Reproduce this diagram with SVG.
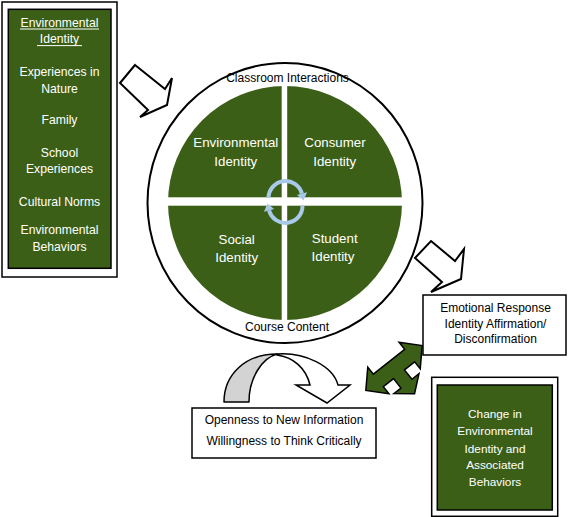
<svg xmlns="http://www.w3.org/2000/svg" width="568" height="517" viewBox="0 0 568 517">
<style>
.t{font-family:"Liberation Sans",Arial,sans-serif;font-size:12px;fill:#000;text-anchor:middle}
.w{font-family:"Liberation Sans",Arial,sans-serif;font-size:12.2px;fill:#fff;text-anchor:middle}
.q{font-family:"Liberation Sans",Arial,sans-serif;font-size:13.3px;fill:#fff;text-anchor:middle}
.frame{fill:#fff;stroke:#000;stroke-width:1.5}
.green{fill:#3c5f17;stroke:#000;stroke-width:1.5}
.hollow{fill:#fff;stroke:#000;stroke-width:2;stroke-linejoin:miter}
.rot{fill:none;stroke:#a9c9e8;stroke-width:4}
.rothead{fill:#a9c9e8}
</style>
<rect width="568" height="517" fill="#fff"/>

<g id="influences">
<rect class="frame" x="2" y="2" width="115" height="275"/>
<rect class="green" x="8.3" y="9.3" width="102.7" height="259"/>
<text class="w" x="59.5" y="26.7">Environmental</text>
<text class="w" x="59.5" y="43.3">Identity</text>
<line x1="20" y1="29" x2="99" y2="29" stroke="#fff" stroke-width="1"/>
<line x1="37" y1="45.6" x2="82" y2="45.6" stroke="#fff" stroke-width="1"/>
<text class="w" x="59.5" y="76">Experiences in</text>
<text class="w" x="59.5" y="92.7">Nature</text>
<text class="w" x="59.5" y="124.3">Family</text>
<text class="w" x="59.5" y="156.7">School</text>
<text class="w" x="59.5" y="173.3">Experiences</text>
<text class="w" x="59.5" y="206">Cultural Norms</text>
<text class="w" x="59.5" y="234">Environmental</text>
<text class="w" x="59.5" y="250.7">Behaviors</text>
</g>

<g id="identities">
<ellipse cx="285" cy="203" rx="137.5" ry="140" fill="#fff" stroke="#000" stroke-width="2"/>
<circle cx="285" cy="203" r="117" fill="#3c5f17"/>
<rect x="281.7" y="80" width="5.5" height="250" fill="#fff"/>
<rect x="160" y="197.3" width="250" height="8.4" fill="#fff"/>
<text class="t" x="287.5" y="81.7">Classroom Interactions</text>
<text class="t" x="287" y="330.7">Course Content</text>
<text class="q" x="235.8" y="147.3">Environmental</text>
<text class="q" x="235.8" y="166">Identity</text>
<text class="q" x="335" y="147.3">Consumer</text>
<text class="q" x="334.7" y="166">Identity</text>
<text class="q" x="236.7" y="244">Social</text>
<text class="q" x="236.7" y="262">Identity</text>
<text class="q" x="334.7" y="242.7">Student</text>
<text class="q" x="333" y="261.3">Identity</text>
<path class="rot" d="M268.5,198 A17,17 0 0 1 301.9,193.6"/>
<polygon class="rothead" points="307,192.2 296.9,195 303.6,200.4"/>
<path class="rot" d="M302.5,206 A17,17 0 0 1 269.1,210.4"/>
<polygon class="rothead" points="264,211.8 274.2,209 267.4,203.6"/>
</g>

<g id="emotional">
<rect class="frame" x="423" y="295" width="143" height="60"/>
<text class="t" x="495.5" y="311.7">Emotional Response</text>
<text class="t" x="495.5" y="328.3">Identity Affirmation/</text>
<text class="t" x="495.5" y="343.3">Disconfirmation</text>
</g>

<g id="openness">
<rect class="frame" x="192" y="408" width="184" height="50"/>
<text class="t" x="284" y="424">Openness to New Information</text>
<text class="t" x="284" y="445.3">Willingness to Think Critically</text>
</g>

<g id="change">
<rect class="frame" x="431.7" y="377.3" width="126" height="139"/>
<rect class="green" x="437.3" y="385" width="115" height="125"/>
<text class="w" x="495" y="417.7" style="font-size:11.8px">Change in</text>
<text class="w" x="495" y="435" style="font-size:11.8px">Environmental</text>
<text class="w" x="495" y="452.7" style="font-size:11.8px">Identity and</text>
<text class="w" x="495" y="469.3" style="font-size:11.8px">Associated</text>
<text class="w" x="495" y="486" style="font-size:11.8px">Behaviors</text>
</g>

<g id="connectors">
<polygon class="hollow" points="135,65 165,89 172,78 167,105 140,117 148,110 120,83"/>
<polygon class="hollow" points="431,241 455,261 464,249 461,279 431,292 442,282 415,258"/>
<path d="M224,402 C224,374 246,354 277,354 C262,358 249,378 249,402 Z" fill="#d3d3d3" stroke="#000" stroke-width="1.5" stroke-linejoin="round"/>
<path d="M277,354 C305,352 333,366 338,385 L350,385 L327,403 L296,385 L310,385 C306,368 293,357 277,355 Z" fill="#fff" stroke="#000" stroke-width="1.5"/>
<path transform="translate(394,368) rotate(-38.5)" d="M-36,0 L-20,-17 L-20,-8 L20,-8 L20,-17 L36,0 L20,17 L20,8 L7,8 L7,20 L16,20 L0,33 L-16,20 L-7,20 L-7,8 L-20,8 L-20,17 Z" fill="#3c5f17" stroke="#000" stroke-width="1.5"/>
</g>
</svg>
